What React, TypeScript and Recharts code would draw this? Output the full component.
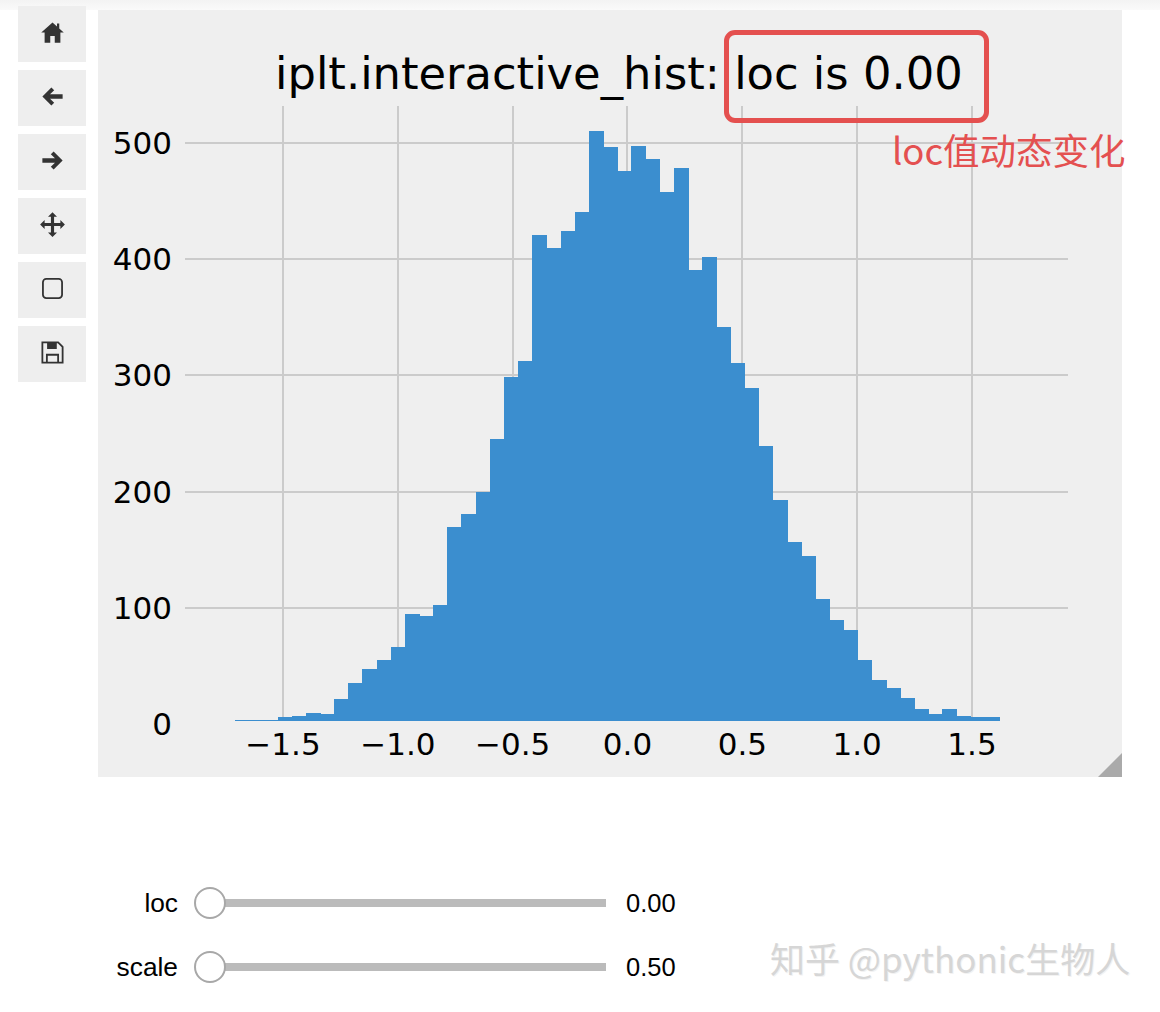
import React from "react";
import { BarChart, Bar, XAxis, YAxis, CartesianGrid } from "recharts";

const binCenters = [-1.676,-1.615,-1.553,-1.491,-1.43,-1.368,-1.307,-1.245,-1.183,-1.122,-1.06,-0.999,-0.937,-0.875,-0.814,-0.752,-0.691,-0.629,-0.567,-0.506,-0.444,-0.383,-0.321,-0.259,-0.198,-0.136,-0.075,-0.013,0.049,0.11,0.172,0.233,0.295,0.357,0.418,0.48,0.541,0.603,0.665,0.726,0.788,0.849,0.911,0.973,1.034,1.096,1.157,1.219,1.281,1.342,1.404,1.465,1.527,1.589];
const counts = [3.5,3.5,3.5,5.5,7,9.6,8,21,35,47,55,66,94,93,102.5,169,180,199,244.6,298,311.6,420,409,423.5,440,509.5,495.5,475,496.5,485.7,456.8,477.6,390,401,341,310.5,288.5,238.5,192,156,144,107,89,81,55,38,31,22.5,13,8.6,13,7,6,5.5];
const xTicks = [-1.5,-1,-0.5,0,0.5,1,1.5];
const yTicks = [0,100,200,300,400,500];
const gridValues = [100,200,300,400,500];
const xDomain = [-1.9267,1.918];
const yDomain = [2.84,531.6];
const titleText = "iplt.interactive_hist: loc is 0.00";
const noteText = "loc值动态变化";
const watermarkText = "知乎 @pythonic生物人";
const sliders = [{ label: "loc", value: "0.00" }, { label: "scale", value: "0.50" }];

const data = binCenters.map((center, i) => ({ center, count: counts[i] }));
const fmtX = (v: number) => (v < 0 ? "\u2212" : "") + Math.abs(v).toFixed(1);
const mono = "'DejaVu Sans', sans-serif";
const abs = (left: number, top: number, width: number, height: number): React.CSSProperties => ({ position: "absolute", left, top, width, height });

const icons: React.ReactNode[] = [
  <path d="M12 3 L2 12 L5 12 L5 21 L10 21 L10 15 L14 15 L14 21 L19 21 L19 12 L22 12 L18 8.5 L18 4 L16 4 L16 6.7 Z" fill="#333" />,
  <path d="M11 4 L3 12 L11 20 L13.5 17.5 L9.8 14 L21 14 L21 10 L9.8 10 L13.5 6.5 Z" fill="#333" />,
  <path d="M13 4 L21 12 L13 20 L10.5 17.5 L14.2 14 L3 14 L3 10 L14.2 10 L10.5 6.5 Z" fill="#333" />,
  <path d="M12 1 L16 5 L13.4 5 L13.4 10.6 L19 10.6 L19 8 L23 12 L19 16 L19 13.4 L13.4 13.4 L13.4 19 L16 19 L12 23 L8 19 L10.6 19 L10.6 13.4 L5 13.4 L5 16 L1 12 L5 8 L5 10.6 L10.6 10.6 L10.6 5 L8 5 Z" fill="#333" />,
  <rect x="3.5" y="3.5" width="17" height="17" rx="3" fill="none" stroke="#333" strokeWidth="1.6" />,
  <g fill="none" stroke="#333" strokeWidth="1.6"><path d="M3 3 H17 L21 7 V21 H3 Z" /><path d="M7 21 V14 H17 V21" /><path d="M8 3 V8 H15 V3" fill="#333" /></g>,
];

export default function App() {
  return (
    <div style={{ ...abs(0, 0, 1160, 1012), background: "#fff", overflow: "hidden" }}>
      <div style={{ ...abs(0, 0, 1160, 10), background: "linear-gradient(#f3f3f3,#fafafa)" }} />
      {icons.map((icon, i) => (
        <div key={i} style={{ ...abs(18, 6 + i * 64, 68, 56), background: "#eeeeee", display: "flex", alignItems: "center", justifyContent: "center" }}>
          <svg width="27" height="27" viewBox="0 0 24 24" style={{ marginTop: -3 }}>{icon}</svg>
        </div>
      ))}
      <div style={{ ...abs(98, 10, 1024, 767), background: "#efefef", shapeRendering: "crispEdges" }}>
        <BarChart
          width={1024}
          height={767}
          data={data}
          barCategoryGap={0}
          barGap={0}
          margin={{ top: 96, right: 54, bottom: 0, left: 0 }}
        >
          <CartesianGrid stroke="#cbcbcb" strokeWidth={2} horizontalValues={gridValues} verticalValues={xTicks} />
          <XAxis
            dataKey="center"
            type="number"
            domain={xDomain}
            allowDataOverflow
            ticks={xTicks}
            interval={0}
            tickFormatter={fmtX}
            height={56}
            axisLine={false}
            tickLine={false}
            tickMargin={6}
            tick={{ fontFamily: mono, fontSize: 31, fill: "#000" }}
          />
          <YAxis
            type="number"
            domain={yDomain}
            allowDataOverflow
            ticks={yTicks}
            interval={0}
            width={87}
            axisLine={false}
            tickLine={false}
            tickMargin={7}
            tick={{ fontFamily: mono, fontSize: 31, fill: "#000" }}
          />
          <Bar dataKey="count" fill="#3b8ecf" stroke="#3b8ecf" strokeWidth={1} isAnimationActive={false} />
        </BarChart>
      </div>
      <div style={{ position: "absolute", left: 275, top: 49, fontFamily: mono, fontSize: 44.8, lineHeight: "50px", color: "#000", whiteSpace: "nowrap" }}>{titleText}</div>
      <div style={{ ...abs(724, 30, 265, 93), boxSizing: "border-box", border: "5px solid #e4504f", borderRadius: 11 }} />
      <div style={{ position: "absolute", left: 892, top: 127, fontFamily: "'Noto Sans CJK SC', sans-serif", fontSize: 36.5, lineHeight: "46px", color: "#e45050", whiteSpace: "nowrap" }}>{noteText}</div>
      <svg style={{ ...abs(1098, 753, 24, 24) }} viewBox="0 0 24 24"><polygon points="0,24 24,0 24,24" fill="#aaaaaa" /></svg>
      {sliders.map((s, i) => {
        const y = 903 + i * 64;
        return (
          <React.Fragment key={s.label}>
            <div style={{ position: "absolute", left: 60, width: 118, top: y - 15, textAlign: "right", fontFamily: "'Liberation Sans', sans-serif", fontSize: 26.3, lineHeight: "30px", color: "#000" }}>{s.label}</div>
            <div style={{ ...abs(210, y - 4, 396, 8), background: "#bbbbbb" }} />
            <div style={{ ...abs(194, y - 16, 32, 32), boxSizing: "border-box", borderRadius: "50%", background: "#fff", border: "2px solid #a8a8a8" }} />
            <div style={{ position: "absolute", left: 626, top: y - 15, fontFamily: "'Liberation Sans', sans-serif", fontSize: 25.5, lineHeight: "30px", color: "#000" }}>{s.value}</div>
          </React.Fragment>
        );
      })}
      <div style={{ position: "absolute", left: 770, top: 936, fontFamily: "'Noto Sans CJK SC', sans-serif", fontSize: 35, lineHeight: "44px", color: "#d6d6d6", whiteSpace: "nowrap", textShadow: "1px 1px 0 #f2f2f2" }}>{watermarkText}</div>
    </div>
  );
}
